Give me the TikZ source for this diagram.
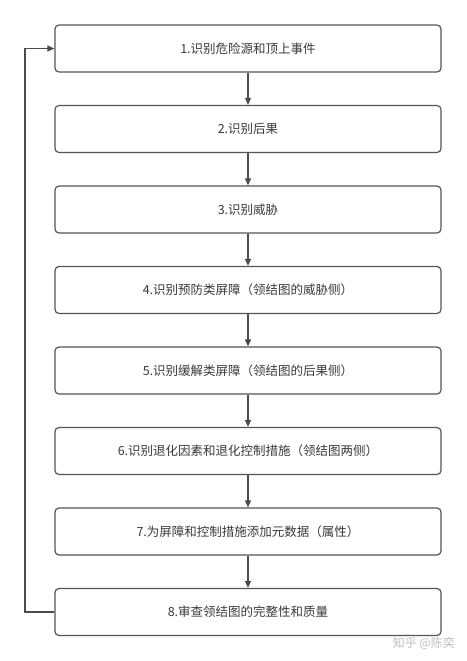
\documentclass[tikz,border=0pt]{standalone}
\usepackage{fontspec}
\setmainfont{Noto Sans CJK SC}
\usetikzlibrary{arrows.meta}
\definecolor{bordc}{HTML}{555555}
\definecolor{txtc}{HTML}{3a3a3a}
\begin{document}
\begin{tikzpicture}[x=1pt,y=-1pt,
  stepbox/.style={draw=bordc,line width=1.2pt,rounded corners=4pt,minimum width=386pt,minimum height=47pt,
    text=txtc,font=\fontsize{12.5}{15}\selectfont,inner sep=0pt,fill=white},
  conn/.style={draw=bordc!90!black,line width=1.2pt,-{Triangle[length=7pt,width=6pt]}}]
\useasboundingbox (0,0) rectangle (466,661);
\fill[white] (0,0) rectangle (466,661);
\node[stepbox] (b1) at (248,48.5) {1.识别危险源和顶上事件};
\node[stepbox] (b2) at (248,129) {2.识别后果};
\node[stepbox] (b3) at (248,209.5) {3.识别威胁};
\node[stepbox] (b4) at (248,290) {4.识别预防类屏障（领结图的威胁侧）};
\node[stepbox] (b5) at (248,370.5) {5.识别缓解类屏障（领结图的后果侧）};
\node[stepbox] (b6) at (248,451) {6.识别退化因素和退化控制措施（领结图两侧）};
\node[stepbox] (b7) at (248,531.5) {7.为屏障和控制措施添加元数据（属性）};
\node[stepbox] (b8) at (248,612) {8.审查领结图的完整性和质量};
\draw[conn] (b1) -- (b2);
\draw[conn] (b2) -- (b3);
\draw[conn] (b3) -- (b4);
\draw[conn] (b4) -- (b5);
\draw[conn] (b5) -- (b6);
\draw[conn] (b6) -- (b7);
\draw[conn] (b7) -- (b8);
\coordinate (lb) at (25,612);
\coordinate (lt) at (25,48.5);
\draw[conn] (b8.west) -- (lb) -- (lt) -- (b1.west);
\node[text=black!25,font=\fontsize{12}{14}\selectfont,anchor=east,inner sep=0pt] (wm) at (455,643) {知乎 @陈奕};
\end{tikzpicture}
\end{document}
